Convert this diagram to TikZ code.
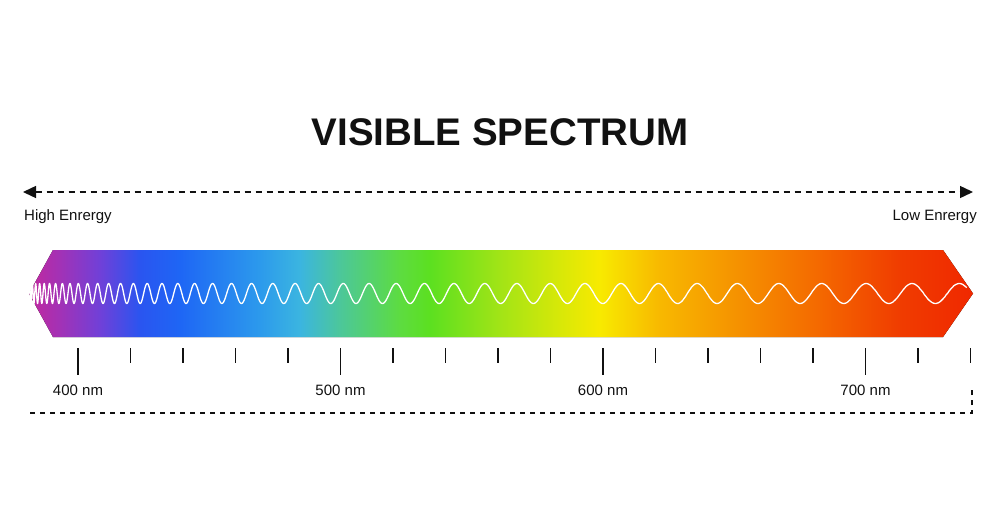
\documentclass[tikz,border=0pt]{standalone}
\usepackage{fontspec}
\setmainfont{Liberation Sans}
\usetikzlibrary{arrows.meta}
\definecolor{s01}{HTML}{C2289E}
\definecolor{s02}{HTML}{A232B6}
\definecolor{s03}{HTML}{7040D8}
\definecolor{s04}{HTML}{2A55F0}
\definecolor{s05}{HTML}{1E66F5}
\definecolor{s06}{HTML}{2C9AEC}
\definecolor{s07}{HTML}{3BB5E0}
\definecolor{s08}{HTML}{4CC79A}
\definecolor{s09}{HTML}{5DDC40}
\definecolor{s10}{HTML}{5CE020}
\definecolor{s11}{HTML}{A2E416}
\definecolor{s12}{HTML}{D8E808}
\definecolor{s13}{HTML}{F8EA00}
\definecolor{s14}{HTML}{F8B800}
\definecolor{s15}{HTML}{F59000}
\definecolor{s16}{HTML}{F46800}
\definecolor{s17}{HTML}{F03C00}
\definecolor{s18}{HTML}{F02800}
\definecolor{ink}{HTML}{111111}
\pgfdeclarehorizontalshading{spectrum}{100bp}{color(0bp)=(s01); color(25bp)=(s01); color(26.64bp)=(s02); color(28.76bp)=(s03); color(30.88bp)=(s04); color(33bp)=(s05); color(37.23bp)=(s06); color(39.35bp)=(s07); color(41.47bp)=(s08); color(44.65bp)=(s09); color(46.24bp)=(s10); color(49.95bp)=(s11); color(53.12bp)=(s12); color(55.24bp)=(s13); color(58.42bp)=(s14); color(62.66bp)=(s15); color(66.9bp)=(s16); color(71.13bp)=(s17); color(75bp)=(s18); color(100bp)=(s18)}
\tikzset{
  lbl/.style={font=\fontsize{15}{18}\selectfont, text=ink, inner sep=0pt},
  ttl/.style={font=\fontsize{38.5}{46}\selectfont\bfseries, text=ink, inner sep=0pt},
  tickmark/.style={draw=ink, line width=1.3pt},
  dashline/.style={draw=ink, line width=1.4pt, dash pattern=on 6.5pt off 4.5pt},
  wave/.style={draw=white, line width=1.3pt, line join=round}
}
\begin{document}
\begin{tikzpicture}[x=1pt,y=-1pt]
\useasboundingbox (0,0) rectangle (1000,522);
\fill[white] (0,0) rectangle (1000,522);
% title
\node[ttl, anchor=base] (title) at (500,145) {VISIBLE SPECTRUM};
% energy arrow
\coordinate (aL) at (23,192);
\coordinate (aR) at (973,192);
\draw[dashline, {Triangle[length=13pt,width=12pt]}-{Triangle[length=13pt,width=12pt]}] (aL) -- (aR);
\node[lbl, anchor=base west] (high) at (24,220) {High Enrergy};
\node[lbl, anchor=base east] (low) at (977,220) {Low Enrergy};
% spectrum bar
\fill[shading=spectrum] (53,250) -- (943,250) -- (973,293.5) -- (943,337) -- (53,337) -- (29,293.5) -- cycle;
% wave (chirp: wavelength grows to the right)
\draw[wave] plot[domain=2.0477:15.49, samples=1300, variable=\t]
  ({23+(\t)^2.5}, {293.5-10*sin(1135.8*(\t-2.0477))});
% ticks
\foreach \i in {0,...,17}{
  \pgfmathsetmacro\tx{78+52.5*\i}
  \pgfmathtruncatemacro\ismaj{mod(\i,5)==0 ? 1 : 0}
  \ifnum\ismaj=1
    \draw[tickmark] (\tx,348) -- (\tx,375);
  \else
    \draw[tickmark] (\tx,348) -- (\tx,363);
  \fi
}
\foreach \v/\i in {400/0,500/5,600/10,700/15}
  \node[lbl, anchor=base] (l\v) at ({78+52.5*\i},395) {\v\ nm};
% bottom dashed bracket
\coordinate (bL) at (30,413);
\coordinate (bC) at (972,413);
\coordinate (bT) at (972,388);
\draw[dashline, dash pattern=on 5pt off 5pt] (bL) -- (bC) -- (bT);
\end{tikzpicture}
\end{document}
